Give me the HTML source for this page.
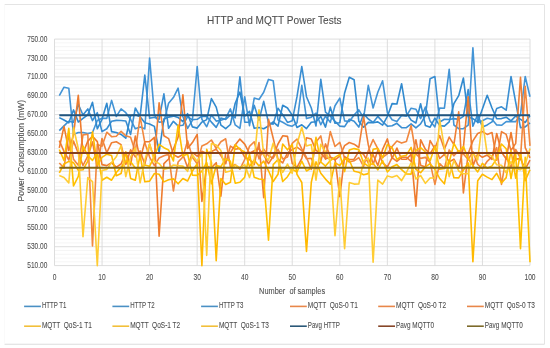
<!DOCTYPE html><html><head><meta charset="utf-8"><title>HTTP and MQTT Power Tests</title><style>html,body{margin:0;padding:0;background:#fff;}svg{display:block;filter:blur(0.35px);}text{font-family:"Liberation Sans",Arial,sans-serif;fill:#4d4d4d;stroke:#4d4d4d;stroke-width:0.08px;}</style></head><body>
<svg width="550" height="348" viewBox="0 0 550 348">
<rect x="0" y="0" width="550" height="348" fill="#fff"/>
<path d="M4.5 4.5H544.5V344.2" fill="none" stroke="#E4E4E4" stroke-width="1"/>
<path d="M4.5 344.2H544.5" fill="none" stroke="#DCDCDC" stroke-width="1.1"/>
<path d="M4.5 4.5V344.2" fill="none" stroke="#FAFAFA" stroke-width="1"/>
<path d="M54.5 261.83H530.0M54.5 258.05H530.0M54.5 254.28H530.0M54.5 250.50H530.0M54.5 242.95H530.0M54.5 239.18H530.0M54.5 235.40H530.0M54.5 231.63H530.0M54.5 224.08H530.0M54.5 220.30H530.0M54.5 216.53H530.0M54.5 212.75H530.0M54.5 205.20H530.0M54.5 201.43H530.0M54.5 197.65H530.0M54.5 193.88H530.0M54.5 186.33H530.0M54.5 182.55H530.0M54.5 178.78H530.0M54.5 175.00H530.0M54.5 167.45H530.0M54.5 163.68H530.0M54.5 159.90H530.0M54.5 156.13H530.0M54.5 148.58H530.0M54.5 144.80H530.0M54.5 141.03H530.0M54.5 137.25H530.0M54.5 129.70H530.0M54.5 125.93H530.0M54.5 122.15H530.0M54.5 118.38H530.0M54.5 110.83H530.0M54.5 107.05H530.0M54.5 103.28H530.0M54.5 99.50H530.0M54.5 91.95H530.0M54.5 88.18H530.0M54.5 84.40H530.0M54.5 80.62H530.0M54.5 73.08H530.0M54.5 69.30H530.0M54.5 65.53H530.0M54.5 61.75H530.0M54.5 54.20H530.0M54.5 50.43H530.0M54.5 46.65H530.0M54.5 42.88H530.0" stroke="#F2F2F2" stroke-width="0.8" fill="none"/>
<path d="M54.5 265.60H530.0M54.5 246.73H530.0M54.5 227.85H530.0M54.5 208.98H530.0M54.5 190.10H530.0M54.5 171.23H530.0M54.5 152.35H530.0M54.5 133.48H530.0M54.5 114.60H530.0M54.5 95.73H530.0M54.5 76.85H530.0M54.5 57.98H530.0M54.5 39.10H530.0M54.50 39.1V265.6M102.05 39.1V265.6M149.60 39.1V265.6M197.15 39.1V265.6M244.70 39.1V265.6M292.25 39.1V265.6M339.80 39.1V265.6M387.35 39.1V265.6M434.90 39.1V265.6M482.45 39.1V265.6M530.00 39.1V265.6" stroke="#D9D9D9" stroke-width="0.9" fill="none"/>
<text x="47.3" y="268.1" font-size="8.7" text-anchor="end" textLength="20" lengthAdjust="spacingAndGlyphs">510.00</text>
<text x="47.3" y="249.2" font-size="8.7" text-anchor="end" textLength="20" lengthAdjust="spacingAndGlyphs">530.00</text>
<text x="47.3" y="230.4" font-size="8.7" text-anchor="end" textLength="20" lengthAdjust="spacingAndGlyphs">550.00</text>
<text x="47.3" y="211.5" font-size="8.7" text-anchor="end" textLength="20" lengthAdjust="spacingAndGlyphs">570.00</text>
<text x="47.3" y="192.6" font-size="8.7" text-anchor="end" textLength="20" lengthAdjust="spacingAndGlyphs">590.00</text>
<text x="47.3" y="173.7" font-size="8.7" text-anchor="end" textLength="20" lengthAdjust="spacingAndGlyphs">610.00</text>
<text x="47.3" y="154.9" font-size="8.7" text-anchor="end" textLength="20" lengthAdjust="spacingAndGlyphs">630.00</text>
<text x="47.3" y="136.0" font-size="8.7" text-anchor="end" textLength="20" lengthAdjust="spacingAndGlyphs">650.00</text>
<text x="47.3" y="117.1" font-size="8.7" text-anchor="end" textLength="20" lengthAdjust="spacingAndGlyphs">670.00</text>
<text x="47.3" y="98.2" font-size="8.7" text-anchor="end" textLength="20" lengthAdjust="spacingAndGlyphs">690.00</text>
<text x="47.3" y="79.4" font-size="8.7" text-anchor="end" textLength="20" lengthAdjust="spacingAndGlyphs">710.00</text>
<text x="47.3" y="60.5" font-size="8.7" text-anchor="end" textLength="20" lengthAdjust="spacingAndGlyphs">730.00</text>
<text x="47.3" y="41.6" font-size="8.7" text-anchor="end" textLength="20" lengthAdjust="spacingAndGlyphs">750.00</text>
<text x="54.5" y="280.0" font-size="8.8" text-anchor="middle" textLength="3.7" lengthAdjust="spacingAndGlyphs">0</text>
<text x="102.0" y="280.0" font-size="8.8" text-anchor="middle" textLength="7.4" lengthAdjust="spacingAndGlyphs">10</text>
<text x="149.6" y="280.0" font-size="8.8" text-anchor="middle" textLength="7.4" lengthAdjust="spacingAndGlyphs">20</text>
<text x="197.2" y="280.0" font-size="8.8" text-anchor="middle" textLength="7.4" lengthAdjust="spacingAndGlyphs">30</text>
<text x="244.7" y="280.0" font-size="8.8" text-anchor="middle" textLength="7.4" lengthAdjust="spacingAndGlyphs">40</text>
<text x="292.2" y="280.0" font-size="8.8" text-anchor="middle" textLength="7.4" lengthAdjust="spacingAndGlyphs">50</text>
<text x="339.8" y="280.0" font-size="8.8" text-anchor="middle" textLength="7.4" lengthAdjust="spacingAndGlyphs">60</text>
<text x="387.4" y="280.0" font-size="8.8" text-anchor="middle" textLength="7.4" lengthAdjust="spacingAndGlyphs">70</text>
<text x="434.9" y="280.0" font-size="8.8" text-anchor="middle" textLength="7.4" lengthAdjust="spacingAndGlyphs">80</text>
<text x="482.4" y="280.0" font-size="8.8" text-anchor="middle" textLength="7.4" lengthAdjust="spacingAndGlyphs">90</text>
<text x="530.0" y="280.0" font-size="8.8" text-anchor="middle" textLength="11.1" lengthAdjust="spacingAndGlyphs">100</text>
<text x="274.3" y="24.3" font-size="10.4" text-anchor="middle" textLength="134.5" lengthAdjust="spacingAndGlyphs">HTTP and MQTT Power Tests</text>
<text x="292.1" y="293.8" font-size="8.6" text-anchor="middle" textLength="66" lengthAdjust="spacingAndGlyphs" xml:space="preserve">Number  of samples</text>
<text transform="translate(24,150.7) rotate(-90)" x="0" y="0" font-size="8.2" text-anchor="middle" textLength="101.5" lengthAdjust="spacingAndGlyphs" xml:space="preserve">Power  Consumption (mW)</text>
<polyline points="59.3,95.7 64.0,87.2 68.8,88.2 73.5,134.4 78.3,132.5 83.0,132.5 87.8,133.5 92.5,132.5 97.3,120.5 102.0,118.2 106.8,118.4 111.6,100.4 116.3,116.5 121.1,108.9 125.8,112.7 130.6,119.3 135.3,128.8 140.1,126.9 144.8,128.8 149.6,58.0 154.4,114.6 159.1,122.2 163.9,121.6 168.6,103.3 173.4,97.6 178.1,88.2 182.9,116.5 187.6,128.3 192.4,120.3 197.2,66.5 201.9,119.3 206.7,126.7 211.4,115.0 216.2,121.1 220.9,120.3 225.7,118.4 230.4,108.9 235.2,124.9 239.9,128.3 244.7,96.7 249.5,125.7 254.2,98.1 259.0,99.5 263.7,92.3 268.5,79.4 273.2,80.8 278.0,120.0 282.7,122.3 287.5,125.1 292.2,126.2 297.0,122.9 301.8,85.3 306.5,118.6 311.3,117.2 316.0,113.0 320.8,124.7 325.5,116.2 330.3,122.3 335.0,105.7 339.8,98.1 344.6,120.9 349.3,121.5 354.1,115.0 358.8,109.9 363.6,117.8 368.3,85.3 373.1,108.0 377.8,92.3 382.6,80.8 387.4,112.7 392.1,119.7 396.9,121.6 401.6,115.4 406.4,116.1 411.1,108.2 415.9,109.2 420.6,118.6 425.4,107.1 430.1,121.0 434.9,126.9 439.7,108.0 444.4,108.2 449.2,69.3 453.9,125.0 458.7,128.6 463.4,128.7 468.2,125.2 472.9,47.7 477.7,122.8 482.4,120.7 487.2,118.3 492.0,119.3 496.7,124.9 501.5,125.3 506.2,121.6 511.0,121.6 515.7,121.6 520.5,114.7 525.2,76.5 530.0,96.7" fill="none" stroke="#4394D6" stroke-width="1.6" stroke-linejoin="round"/>
<polyline points="59.3,130.6 64.0,125.9 68.8,121.2 73.5,122.3 78.3,104.2 83.0,115.0 87.8,108.9 92.5,120.6 97.3,112.7 102.0,131.6 106.8,128.8 111.6,121.3 116.3,120.4 121.1,120.5 125.8,121.0 130.6,134.4 135.3,108.0 140.1,116.5 144.8,75.0 149.6,118.2 154.4,117.2 159.1,119.2 163.9,93.8 168.6,128.3 173.4,121.3 178.1,125.8 182.9,125.3 187.6,116.6 192.4,119.8 197.2,119.3 201.9,116.1 206.7,116.5 211.4,122.1 216.2,127.4 220.9,118.1 225.7,119.5 230.4,115.0 235.2,117.8 239.9,76.9 244.7,122.2 249.5,122.2 254.2,105.2 259.0,120.2 263.7,101.4 268.5,122.9 273.2,124.1 278.0,108.2 282.7,114.7 287.5,122.4 292.2,120.8 297.0,96.7 301.8,66.5 306.5,96.7 311.3,108.0 316.0,126.0 320.8,79.4 325.5,112.1 330.3,116.2 335.0,121.2 339.8,126.1 344.6,126.6 349.3,119.3 354.1,121.3 358.8,127.1 363.6,113.9 368.3,119.0 373.1,122.4 377.8,116.4 382.6,121.6 387.4,126.2 392.1,125.8 396.9,123.3 401.6,127.6 406.4,127.7 411.1,123.8 415.9,127.8 420.6,123.9 425.4,115.7 430.1,78.7 434.9,76.5 439.7,122.0 444.4,119.2 449.2,119.5 453.9,118.6 458.7,119.4 463.4,116.3 468.2,89.5 472.9,126.3 477.7,114.6 482.4,126.9 487.2,124.9 492.0,121.9 496.7,108.4 501.5,106.8 506.2,110.2 511.0,76.5 515.7,102.3 520.5,127.8 525.2,126.9 530.0,122.8" fill="none" stroke="#3A8ED2" stroke-width="1.6" stroke-linejoin="round"/>
<polyline points="59.3,117.6 64.0,120.0 68.8,122.8 73.5,109.9 78.3,122.0 83.0,118.4 87.8,114.8 92.5,102.3 97.3,128.8 102.0,119.3 106.8,103.3 111.6,131.6 116.3,132.5 121.1,134.4 125.8,138.2 130.6,115.7 135.3,114.8 140.1,116.7 144.8,122.8 149.6,124.0 154.4,126.4 159.1,152.4 163.9,119.1 168.6,117.1 173.4,116.1 178.1,117.4 182.9,121.7 187.6,113.7 192.4,126.9 197.2,128.1 201.9,122.1 206.7,119.6 211.4,98.6 216.2,107.1 220.9,125.1 225.7,128.7 230.4,124.5 235.2,103.3 239.9,92.0 244.7,116.3 249.5,111.3 254.2,128.3 259.0,127.5 263.7,128.8 268.5,126.0 273.2,121.8 278.0,126.1 282.7,105.2 287.5,108.0 292.2,115.1 297.0,127.5 301.8,124.8 306.5,128.6 311.3,122.2 316.0,121.7 320.8,116.5 325.5,127.1 330.3,107.1 335.0,123.2 339.8,122.8 344.6,92.9 349.3,77.3 354.1,79.7 358.8,121.2 363.6,127.2 368.3,122.4 373.1,122.7 377.8,121.9 382.6,125.1 387.4,116.3 392.1,103.6 396.9,104.0 401.6,83.7 406.4,112.7 411.1,120.1 415.9,123.0 420.6,103.7 425.4,125.5 430.1,127.2 434.9,118.1 439.7,125.6 444.4,126.1 449.2,121.9 453.9,103.7 458.7,95.7 463.4,78.0 468.2,116.9 472.9,118.7 477.7,122.2 482.4,109.1 487.2,95.3 492.0,108.0 496.7,118.7 501.5,118.6 506.2,117.2 511.0,120.9 515.7,116.0 520.5,119.3 525.2,122.5 530.0,115.5" fill="none" stroke="#3089CE" stroke-width="1.6" stroke-linejoin="round"/>
<polyline points="59.3,140.6 64.0,151.4 68.8,160.0 73.5,141.1 78.3,153.1 83.0,165.5 87.8,156.2 92.5,141.9 97.3,168.1 102.0,138.5 106.8,152.7 111.6,142.7 116.3,141.7 121.1,144.6 125.8,164.4 130.6,149.8 135.3,156.9 140.1,150.9 144.8,164.2 149.6,144.3 154.4,159.2 159.1,102.7 163.9,135.8 168.6,138.6 173.4,154.6 178.1,157.2 182.9,154.5 187.6,167.5 192.4,152.6 197.2,156.2 201.9,151.3 206.7,153.5 211.4,151.4 216.2,149.2 220.9,155.5 225.7,163.7 230.4,146.1 235.2,149.2 239.9,148.4 244.7,157.1 249.5,159.4 254.2,164.6 259.0,142.5 263.7,197.8 268.5,119.3 273.2,138.2 278.0,159.2 282.7,162.9 287.5,152.9 292.2,149.6 297.0,147.1 301.8,150.6 306.5,158.8 311.3,158.2 316.0,168.8 320.8,161.1 325.5,143.9 330.3,156.9 335.0,159.9 339.8,156.2 344.6,145.7 349.3,142.5 354.1,144.2 358.8,147.5 363.6,116.8 368.3,144.9 373.1,164.6 377.8,150.4 382.6,162.8 387.4,166.8 392.1,157.6 396.9,161.3 401.6,157.3 406.4,157.2 411.1,161.5 415.9,139.7 420.6,165.2 425.4,167.1 430.1,140.6 434.9,148.8 439.7,135.6 444.4,149.3 449.2,137.1 453.9,144.7 458.7,111.8 463.4,192.9 468.2,153.6 472.9,140.9 477.7,133.5 482.4,131.6 487.2,134.4 492.0,132.5 496.7,160.2 501.5,131.6 506.2,134.4 511.0,150.4 515.7,143.4 520.5,77.2 525.2,147.6 530.0,157.9" fill="none" stroke="#EF7F35" stroke-width="1.6" stroke-linejoin="round"/>
<polyline points="59.3,163.0 64.0,168.0 68.8,134.6 73.5,159.2 78.3,165.2 83.0,134.9 87.8,134.3 92.5,246.0 97.3,144.4 102.0,146.3 106.8,132.2 111.6,136.7 116.3,136.2 121.1,131.3 125.8,135.8 130.6,137.3 135.3,151.7 140.1,116.6 144.8,142.7 149.6,157.1 154.4,165.6 159.1,157.9 163.9,155.7 168.6,154.2 173.4,191.0 178.1,162.0 182.9,157.0 187.6,140.8 192.4,157.3 197.2,163.9 201.9,145.9 206.7,143.8 211.4,140.0 216.2,148.5 220.9,141.7 225.7,138.8 230.4,167.0 235.2,164.5 239.9,169.1 244.7,159.5 249.5,146.4 254.2,141.8 259.0,158.9 263.7,149.1 268.5,155.8 273.2,158.2 278.0,149.3 282.7,158.9 287.5,157.1 292.2,143.4 297.0,139.1 301.8,148.8 306.5,157.5 311.3,169.3 316.0,141.9 320.8,135.9 325.5,159.2 330.3,131.6 335.0,146.5 339.8,142.3 344.6,158.2 349.3,162.1 354.1,160.8 358.8,157.6 363.6,166.3 368.3,150.7 373.1,139.6 377.8,148.7 382.6,157.3 387.4,153.8 392.1,146.5 396.9,141.0 401.6,143.1 406.4,141.5 411.1,125.5 415.9,154.0 420.6,158.4 425.4,157.4 430.1,162.4 434.9,184.4 439.7,163.5 444.4,168.3 449.2,149.9 453.9,155.8 458.7,150.6 463.4,154.0 468.2,159.6 472.9,151.6 477.7,164.4 482.4,168.5 487.2,161.3 492.0,156.7 496.7,147.7 501.5,184.4 506.2,156.8 511.0,167.9 515.7,149.5 520.5,158.1 525.2,86.3 530.0,145.9" fill="none" stroke="#F1883F" stroke-width="1.6" stroke-linejoin="round"/>
<polyline points="59.3,147.8 64.0,126.4 68.8,150.5 73.5,135.0 78.3,95.2 83.0,153.2 87.8,141.1 92.5,136.3 97.3,141.6 102.0,164.6 106.8,165.6 111.6,162.8 116.3,167.2 121.1,164.0 125.8,152.6 130.6,165.0 135.3,136.1 140.1,159.6 144.8,141.8 149.6,141.6 154.4,137.4 159.1,236.3 163.9,163.6 168.6,159.0 173.4,149.1 178.1,137.1 182.9,94.8 187.6,148.4 192.4,142.6 197.2,134.4 201.9,201.4 206.7,166.2 211.4,167.8 216.2,162.7 220.9,196.1 225.7,152.7 230.4,152.6 235.2,145.0 239.9,139.1 244.7,144.1 249.5,153.3 254.2,150.8 259.0,148.7 263.7,154.8 268.5,163.6 273.2,156.5 278.0,144.0 282.7,135.8 287.5,136.4 292.2,163.4 297.0,167.3 301.8,158.4 306.5,137.7 311.3,139.1 316.0,150.5 320.8,152.9 325.5,158.6 330.3,157.4 335.0,158.9 339.8,196.7 344.6,156.7 349.3,159.5 354.1,159.2 358.8,151.3 363.6,154.3 368.3,162.8 373.1,154.7 377.8,165.5 382.6,149.4 387.4,138.9 392.1,158.5 396.9,148.1 401.6,159.2 406.4,159.2 411.1,154.4 415.9,206.1 420.6,139.7 425.4,149.3 430.1,153.7 434.9,145.8 439.7,158.5 444.4,154.3 449.2,161.9 453.9,159.2 458.7,168.2 463.4,147.5 468.2,96.7 472.9,166.1 477.7,153.8 482.4,157.3 487.2,155.1 492.0,159.3 496.7,133.5 501.5,152.0 506.2,159.0 511.0,132.5 515.7,159.1 520.5,158.6 525.2,169.2 530.0,160.2" fill="none" stroke="#EE7B2E" stroke-width="1.6" stroke-linejoin="round"/>
<polyline points="59.3,149.5 64.0,160.5 68.8,128.2 73.5,185.9 78.3,176.3 83.0,146.1 87.8,155.7 92.5,160.4 97.3,152.7 102.0,180.2 106.8,177.2 111.6,180.2 116.3,172.5 121.1,167.1 125.8,161.3 130.6,161.8 135.3,168.1 140.1,168.7 144.8,165.0 149.6,166.3 154.4,155.9 159.1,144.3 163.9,147.7 168.6,150.0 173.4,160.9 178.1,125.0 182.9,156.1 187.6,154.0 192.4,175.1 197.2,175.4 201.9,171.2 206.7,162.4 211.4,183.8 216.2,165.5 220.9,166.6 225.7,158.7 230.4,161.3 235.2,183.2 239.9,182.2 244.7,177.2 249.5,153.9 254.2,177.3 259.0,179.0 263.7,179.5 268.5,240.1 273.2,164.6 278.0,159.5 282.7,181.5 287.5,176.7 292.2,169.2 297.0,172.0 301.8,161.2 306.5,171.0 311.3,168.0 316.0,137.3 320.8,162.0 325.5,166.1 330.3,160.5 335.0,157.4 339.8,154.4 344.6,171.6 349.3,150.0 354.1,148.6 358.8,149.6 363.6,163.0 368.3,166.1 373.1,163.1 377.8,169.9 382.6,160.6 387.4,172.0 392.1,166.8 396.9,164.6 401.6,169.7 406.4,173.9 411.1,174.1 415.9,150.4 420.6,147.7 425.4,152.0 430.1,160.9 434.9,146.2 439.7,169.3 444.4,168.5 449.2,162.2 453.9,143.5 458.7,152.1 463.4,146.4 468.2,158.7 472.9,165.7 477.7,171.9 482.4,163.3 487.2,168.2 492.0,165.9 496.7,158.6 501.5,144.0 506.2,148.8 511.0,178.5 515.7,153.3 520.5,248.6 525.2,157.4 530.0,262.3" fill="none" stroke="#FFC000" stroke-width="1.6" stroke-linejoin="round"/>
<polyline points="59.3,172.8 64.0,164.0 68.8,161.4 73.5,162.6 78.3,170.2 83.0,169.8 87.8,161.2 92.5,131.8 97.3,165.0 102.0,157.3 106.8,154.2 111.6,155.6 116.3,175.7 121.1,173.5 125.8,151.9 130.6,178.4 135.3,180.2 140.1,154.8 144.8,181.8 149.6,181.1 154.4,173.5 159.1,174.3 163.9,181.9 168.6,179.7 173.4,178.9 178.1,183.8 182.9,178.5 187.6,181.0 192.4,171.0 197.2,163.8 201.9,265.6 206.7,149.2 211.4,162.3 216.2,260.6 220.9,178.6 225.7,184.4 230.4,182.3 235.2,144.6 239.9,149.4 244.7,152.0 249.5,166.4 254.2,160.0 259.0,166.0 263.7,161.1 268.5,170.8 273.2,181.5 278.0,174.3 282.7,144.0 287.5,149.8 292.2,144.5 297.0,174.3 301.8,182.5 306.5,251.4 311.3,182.3 316.0,161.9 320.8,173.3 325.5,179.1 330.3,184.1 335.0,162.7 339.8,165.6 344.6,158.5 349.3,160.2 354.1,171.3 358.8,172.2 363.6,174.7 368.3,173.6 373.1,149.3 377.8,148.4 382.6,158.0 387.4,144.6 392.1,147.6 396.9,159.3 401.6,156.2 406.4,155.2 411.1,147.4 415.9,169.3 420.6,172.7 425.4,166.9 430.1,163.7 434.9,169.3 439.7,178.5 444.4,183.8 449.2,160.0 453.9,177.7 458.7,177.9 463.4,170.1 468.2,163.0 472.9,261.8 477.7,180.7 482.4,174.3 487.2,177.1 492.0,179.6 496.7,173.3 501.5,183.0 506.2,177.6 511.0,150.8 515.7,178.2 520.5,153.0 525.2,180.7 530.0,169.6" fill="none" stroke="#FFB900" stroke-width="1.6" stroke-linejoin="round"/>
<polyline points="59.3,175.6 64.0,177.5 68.8,182.9 73.5,127.5 78.3,148.8 83.0,236.7 87.8,177.5 92.5,181.6 97.3,265.6 102.0,170.5 106.8,169.4 111.6,162.6 116.3,156.8 121.1,145.6 125.8,176.6 130.6,157.0 135.3,147.9 140.1,182.8 144.8,160.3 149.6,143.7 154.4,161.6 159.1,163.4 163.9,169.3 168.6,168.3 173.4,165.0 178.1,165.6 182.9,166.1 187.6,171.3 192.4,154.9 197.2,161.5 201.9,153.3 206.7,255.4 211.4,143.5 216.2,144.9 220.9,150.4 225.7,172.3 230.4,171.0 235.2,165.0 239.9,167.7 244.7,164.6 249.5,177.5 254.2,160.6 259.0,109.9 263.7,154.7 268.5,160.3 273.2,143.0 278.0,160.9 282.7,172.4 287.5,164.1 292.2,173.4 297.0,144.3 301.8,127.2 306.5,145.9 311.3,144.5 316.0,180.1 320.8,144.4 325.5,151.7 330.3,161.7 335.0,235.8 339.8,177.8 344.6,248.7 349.3,182.6 354.1,184.1 358.8,184.0 363.6,160.9 368.3,158.0 373.1,262.3 377.8,180.1 382.6,184.1 387.4,175.9 392.1,177.3 396.9,175.5 401.6,180.6 406.4,172.5 411.1,162.9 415.9,179.0 420.6,175.5 425.4,183.3 430.1,178.0 434.9,177.9 439.7,119.8 444.4,147.6 449.2,176.6 453.9,160.5 458.7,171.0 463.4,173.8 468.2,173.8 472.9,152.5 477.7,159.8 482.4,120.9 487.2,153.8 492.0,156.1 496.7,164.8 501.5,165.3 506.2,172.7 511.0,161.6 515.7,168.8 520.5,169.7 525.2,164.6 530.0,148.6" fill="none" stroke="#FFCC33" stroke-width="1.6" stroke-linejoin="round"/>
<line x1="59.3" x2="530.0" y1="115.17" y2="115.17" stroke="#20557F" stroke-width="2.0"/>
<line x1="59.3" x2="530.0" y1="153.10" y2="153.10" stroke="#86401A" stroke-width="2.0"/>
<line x1="59.3" x2="530.0" y1="167.83" y2="167.83" stroke="#806418" stroke-width="2.0"/>
<line x1="24.1" x2="40.9" y1="306.4" y2="306.4" stroke="#4A90C4" stroke-width="1.6"/>
<text x="41.9" y="308.4" font-size="8.2" textLength="24.5" lengthAdjust="spacingAndGlyphs" xml:space="preserve">HTTP T1</text>
<line x1="112.4" x2="129.2" y1="306.4" y2="306.4" stroke="#4A90C4" stroke-width="1.6"/>
<text x="130.2" y="308.4" font-size="8.2" textLength="24.5" lengthAdjust="spacingAndGlyphs" xml:space="preserve">HTTP T2</text>
<line x1="201.1" x2="217.9" y1="306.4" y2="306.4" stroke="#4A90C4" stroke-width="1.6"/>
<text x="218.9" y="308.4" font-size="8.2" textLength="24.5" lengthAdjust="spacingAndGlyphs" xml:space="preserve">HTTP T3</text>
<line x1="290.0" x2="306.8" y1="306.4" y2="306.4" stroke="#E8874A" stroke-width="1.6"/>
<text x="307.8" y="308.4" font-size="8.2" textLength="50.0" lengthAdjust="spacingAndGlyphs" xml:space="preserve">MQTT  QoS-0 T1</text>
<line x1="378.2" x2="395.0" y1="306.4" y2="306.4" stroke="#E8874A" stroke-width="1.6"/>
<text x="396.0" y="308.4" font-size="8.2" textLength="50.0" lengthAdjust="spacingAndGlyphs" xml:space="preserve">MQTT  QoS-0 T2</text>
<line x1="467.0" x2="483.8" y1="306.4" y2="306.4" stroke="#E8874A" stroke-width="1.6"/>
<text x="484.8" y="308.4" font-size="8.2" textLength="50.0" lengthAdjust="spacingAndGlyphs" xml:space="preserve">MQTT  QoS-0 T3</text>
<line x1="24.1" x2="40.9" y1="326.2" y2="326.2" stroke="#F2BF3A" stroke-width="1.6"/>
<text x="41.9" y="328.2" font-size="8.2" textLength="50.0" lengthAdjust="spacingAndGlyphs" xml:space="preserve">MQTT  QoS-1 T1</text>
<line x1="112.4" x2="129.2" y1="326.2" y2="326.2" stroke="#F2BF3A" stroke-width="1.6"/>
<text x="130.2" y="328.2" font-size="8.2" textLength="50.0" lengthAdjust="spacingAndGlyphs" xml:space="preserve">MQTT  QoS-1 T2</text>
<line x1="201.1" x2="217.9" y1="326.2" y2="326.2" stroke="#F2BF3A" stroke-width="1.6"/>
<text x="218.9" y="328.2" font-size="8.2" textLength="50.0" lengthAdjust="spacingAndGlyphs" xml:space="preserve">MQTT  QoS-1 T3</text>
<line x1="290.0" x2="306.8" y1="326.2" y2="326.2" stroke="#2A5878" stroke-width="1.6"/>
<text x="307.8" y="328.2" font-size="8.2" textLength="32.0" lengthAdjust="spacingAndGlyphs" xml:space="preserve">Pavg HTTP</text>
<line x1="378.2" x2="395.0" y1="326.2" y2="326.2" stroke="#864628" stroke-width="1.6"/>
<text x="396.0" y="328.2" font-size="8.2" textLength="38.0" lengthAdjust="spacingAndGlyphs" xml:space="preserve">Pavg MQTT0</text>
<line x1="467.0" x2="483.8" y1="326.2" y2="326.2" stroke="#7C6A2A" stroke-width="1.6"/>
<text x="484.8" y="328.2" font-size="8.2" textLength="38.0" lengthAdjust="spacingAndGlyphs" xml:space="preserve">Pavg MQTT0</text>
</svg></body></html>
